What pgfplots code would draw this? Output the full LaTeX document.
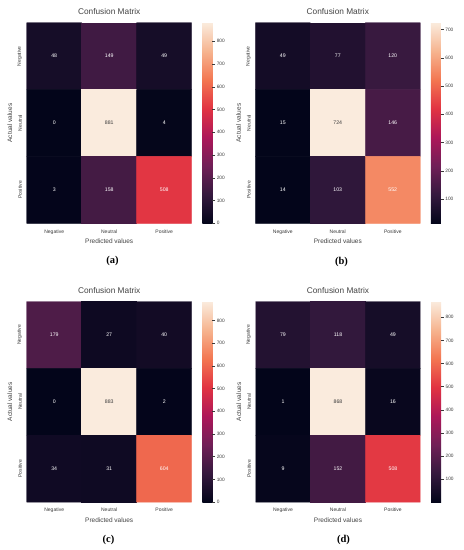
\documentclass[border=0pt]{standalone}
\usepackage{fontspec}
\setmainfont{Liberation Sans}
\newfontfamily\capfont{Liberation Serif}
\usepackage{pgfplots}
\pgfplotsset{compat=1.18}
\usepackage{pgfplotstable}
\definecolor{txt}{HTML}{3A3A3A}
\definecolor{ttl}{HTML}{444444}

\pgfplotstableread{
x y c
0 0 48
1 0 149
2 0 49
0 1 0
1 1 881
2 1 4
0 2 3
1 2 158
2 2 508
}\tabA
\pgfplotstableread{
x y c
0 0 49
1 0 77
2 0 120
0 1 15
1 1 724
2 1 146
0 2 14
1 2 103
2 2 552
}\tabB
\pgfplotstableread{
x y c
0 0 179
1 0 27
2 0 40
0 1 0
1 1 883
2 1 2
0 2 34
1 2 31
2 2 604
}\tabC
\pgfplotstableread{
x y c
0 0 79
1 0 118
2 0 49
0 1 1
1 1 868
2 1 16
0 2 9
1 2 152
2 2 508
}\tabD

\pgfplotsset{
  /pgf/number format/assume math mode=true,
  colormap={rocket}{rgb255=(3,5,26) rgb255=(53,25,62) rgb255=(112,31,87) rgb255=(173,23,89) rgb255=(225,51,66) rgb255=(243,118,81) rgb255=(246,180,143) rgb255=(250,235,221)},
  cm/.style={
    scale only axis, width=165pt, height=200.6pt, anchor=north west,
    xmin=-0.5, xmax=2.5, ymin=-0.5, ymax=2.5, y dir=reverse,
    axis line style={draw=none},
    xtick={0,1,2}, ytick={0,1,2},
    xticklabels={Negative,Neutral,Positive},
    yticklabels={Negative,Neutral,Positive},
    major tick length=0pt,
    tick label style={font=\fontsize{5}{6}\selectfont, text=txt, inner sep=0pt},
    xticklabel style={anchor=north},
    yticklabel style={rotate=90, anchor=south},
    xticklabel shift=6pt,
    yticklabel shift=4.5pt,
    title={Confusion Matrix},
    title style={font=\fontsize{8.3}{10}\selectfont, text=ttl, inner sep=0pt, at={(axis description cs:0.5,1)}, anchor=base, yshift=2pt},
    xlabel={Predicted values},
    ylabel={Actual values},
    xlabel style={font=\fontsize{6.5}{8}\selectfont, text=ttl, inner sep=0pt, at={([yshift=-20pt]axis description cs:0.5,0)}, anchor=base},
    ylabel style={font=\fontsize{6.5}{8}\selectfont, text=ttl, inner sep=0pt, at={([xshift=-14.5pt]axis description cs:0,0.5)}, rotate=0, anchor=base},
    colormap name=rocket,
    colorbar,
    colorbar shift/.style={xshift=10.6pt},
    every colorbar/.append style={
      scale only axis, width=10pt, height=200.6pt, y dir=normal,
      axis line style={draw=none},
      major tick length=2.8pt, tick align=outside, ytick pos=right, yticklabel pos=right,
      tick style={draw=txt, line width=0.35pt},
      yticklabel style={font=\fontsize{4.8}{5.5}\selectfont, text=txt, rotate=0, anchor=west, inner sep=1.4pt},
      xticklabel shift=0pt, yticklabel shift=0pt,
      title={}, xlabel={}, ylabel={},
    },
  },
  heat/.style={matrix plot*, mesh/cols=3, point meta=explicit},
  ann/.style={only marks, mark=none, point meta=explicit symbolic,
    nodes near coords={\ifnum\pgfplotspointmeta>650\relax\color{txt}\else\color{white}\fi\pgfplotspointmeta},
    nodes near coords align={center},
    every node near coord/.append style={font=\fontsize{5.2}{6}\selectfont, inner sep=0pt, anchor=center}},
}

\begin{document}
\begin{tikzpicture}
\fill[white] (0,0) rectangle (464pt,-550pt);
\path[use as bounding box] (0,0) rectangle (464pt,-550pt);

% (a)
\begin{axis}[cm, at={(26.7pt,-22.7pt)}, point meta min=0, point meta max=881,
  colorbar style={ytick={0,100,...,800}}]
\addplot[heat] table[meta=c] {\tabA};
\addplot[ann] table[meta=c] {\tabA};
\end{axis}

% (b)
\begin{axis}[cm, at={(255.3pt,-22.7pt)}, point meta min=14, point meta max=724,
  colorbar style={ytick={100,200,...,700}}]
\addplot[heat] table[meta=c] {\tabB};
\addplot[ann] table[meta=c] {\tabB};
\end{axis}

% (c)
\begin{axis}[cm, at={(26.7pt,-301.5pt)}, point meta min=0, point meta max=883,
  colorbar style={ytick={0,100,...,800}}]
\addplot[heat] table[meta=c] {\tabC};
\addplot[ann] table[meta=c] {\tabC};
\end{axis}

% (d)
\begin{axis}[cm, at={(255.5pt,-301.5pt)}, point meta min=1, point meta max=868,
  colorbar style={ytick={100,200,...,800}}]
\addplot[heat] table[meta=c] {\tabD};
\addplot[ann] table[meta=c] {\tabD};
\end{axis}

\node[font=\capfont\fontsize{10.5}{12}\selectfont\bfseries, anchor=center] at (112.5pt,-261pt) {(a)};
\node[font=\capfont\fontsize{10.5}{12}\selectfont\bfseries, anchor=center] at (341.5pt,-261.5pt) {(b)};
\node[font=\capfont\fontsize{10.5}{12}\selectfont\bfseries, anchor=center] at (108.5pt,-540pt) {(c)};
\node[font=\capfont\fontsize{10.5}{12}\selectfont\bfseries, anchor=center] at (343.5pt,-540pt) {(d)};
\end{tikzpicture}
\end{document}
